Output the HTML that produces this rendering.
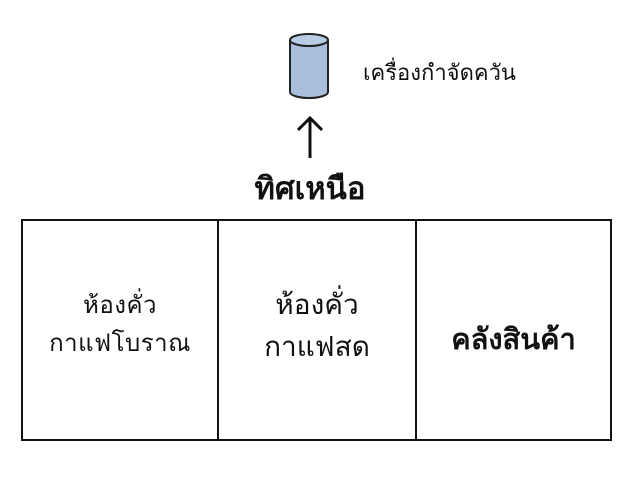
<!DOCTYPE html>
<html><head><meta charset="utf-8"><style>
body{margin:0;width:640px;height:480px;background:#fff;overflow:hidden;font-family:"Liberation Sans","DejaVu Sans",sans-serif;}
.t{position:absolute;color:#111;white-space:nowrap;}
</style></head><body>
<svg width="640" height="480" style="position:absolute;left:0;top:0">
<path d="M290 40 L290 92 A19 6 0 0 0 328 92 L328 40" fill="#a8bedc" stroke="#222" stroke-width="2"/>
<ellipse cx="309" cy="40" rx="19" ry="6" fill="#b8cce6" stroke="#222" stroke-width="2"/>
<line x1="310" y1="118" x2="310" y2="158" stroke="#111" stroke-width="3"/>
<polyline points="298,130 310,118 322,130" fill="none" stroke="#111" stroke-width="3"/>
<rect x="22" y="220" width="589" height="220" fill="none" stroke="#111" stroke-width="2"/>
<line x1="218" y1="220" x2="218" y2="440" stroke="#111" stroke-width="2"/>
<line x1="416" y1="220" x2="416" y2="440" stroke="#111" stroke-width="2"/>
</svg>
<div class="t" style="left:363px;top:55px;font-size:22px">เครื่องกำจัดควัน</div>
<div class="t" style="left:210px;width:200px;text-align:center;top:163px;font-size:31px;font-weight:bold">ทิศเหนือ</div>
<div class="t" style="left:22px;width:196px;text-align:center;top:287px;font-size:24px;line-height:38px;letter-spacing:0.5px">ห้องคั่ว<br>กาแฟโบราณ</div>
<div class="t" style="left:218px;width:198px;text-align:center;top:284px;font-size:28px;line-height:42px">ห้องคั่ว<br>กาแฟสด</div>
<div class="t" style="left:416px;width:195px;text-align:center;top:316px;font-size:29px;font-weight:bold">คลังสินค้า</div>
</body></html>
